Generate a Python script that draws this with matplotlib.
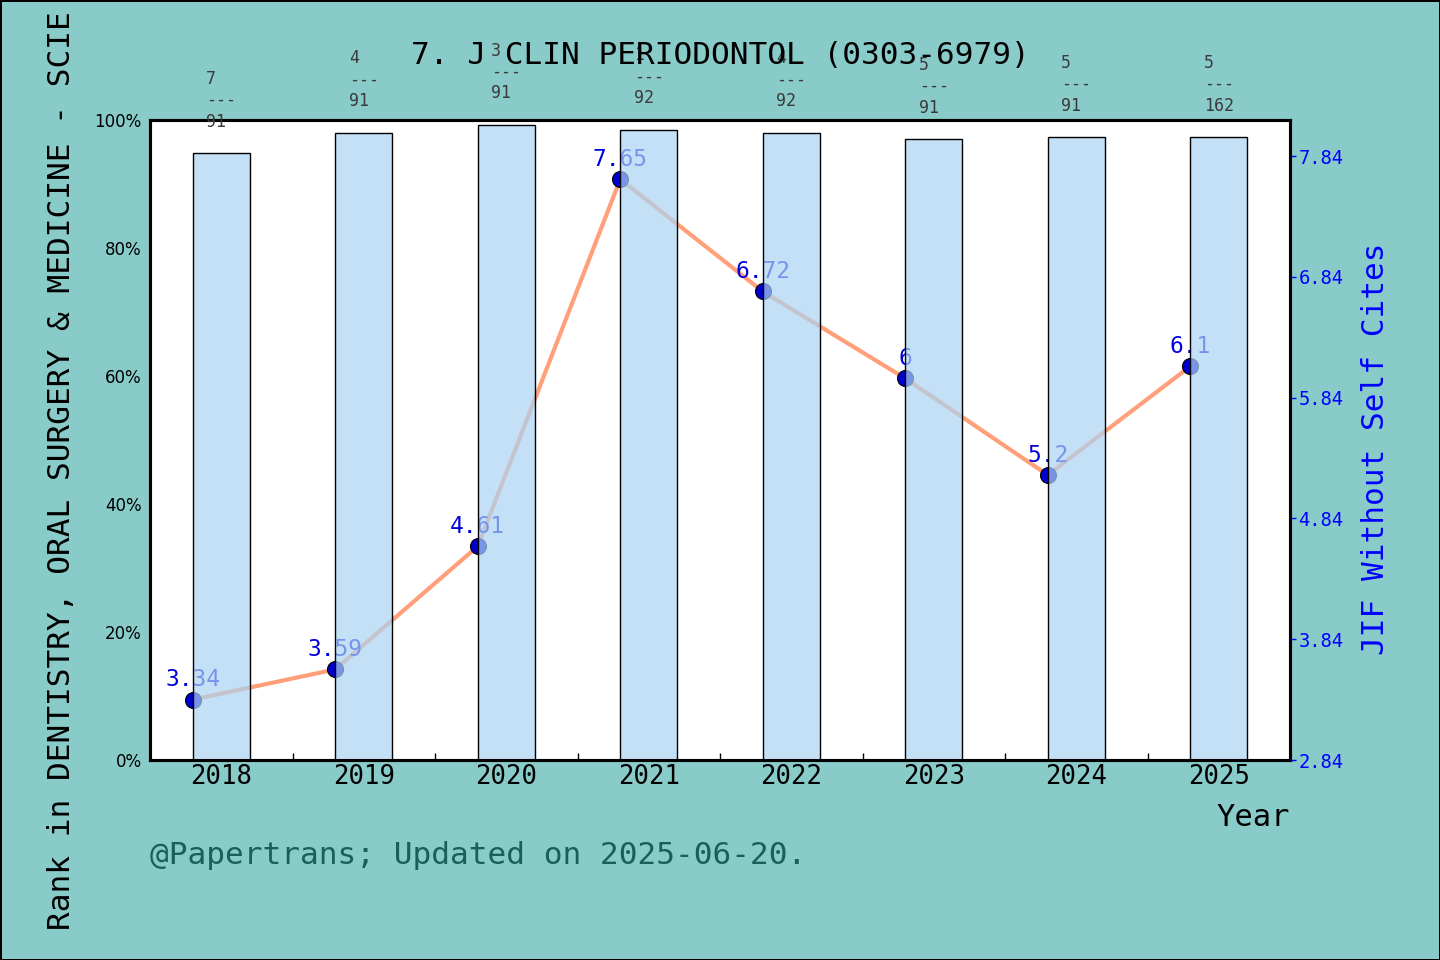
import numpy as np
import matplotlib
matplotlib.use('Agg')
import matplotlib.pyplot as plt

BG = '#88cbc9'
MONO = 'DejaVu Sans Mono'

years = ['2018', '2019', '2020', '2021', '2022', '2023', '2024', '2025']
rank_pct = [0.948, 0.980, 0.992, 0.985, 0.980, 0.970, 0.973, 0.973]
rank_pos = [7, 4, 3, 1, 4, 5, 5, 5]
rank_total = [91, 91, 91, 92, 92, 91, 91, 162]
jif_nsc = [3.34, 3.59, 4.61, 7.65, 6.72, 6.0, 5.2, 6.1]

fig = plt.figure(figsize=(14.4, 9.6), dpi=100)
fig.patch.set_facecolor(BG)
fig.patch.set_edgecolor('black')
fig.patch.set_linewidth(2)

ax = fig.add_axes([150/1440, 200/960, 1140/1440, 640/960])
ax2 = ax.twinx()
ax.set_zorder(2); ax2.set_zorder(1)
ax.patch.set_visible(False)
ax2.patch.set_visible(True)
ax2.patch.set_facecolor('white')

x = np.arange(len(years))

# JIF without self cites (right axis, drawn beneath the bars)
ax2.plot(x, jif_nsc, color='#ffa07a', lw=3, zorder=2)
ax2.plot(x, jif_nsc, 'o', color='#0000cd', ms=11.5, mec='black', mew=0.8, zorder=3)
for xi, v in zip(x, jif_nsc):
    ax2.annotate(f'{v:g}', (xi, v), xytext=(0, 6), textcoords='offset points',
                 ha='center', va='bottom', color='#0000dd', fontsize=16.5, family=MONO)
ax2.set_ylim(2.84, 8.14)
ax2.set_yticks(np.arange(2.84, 7.85, 1.0))
ax2.set_yticklabels([f'{t:.2f}' for t in np.arange(2.84, 7.85, 1.0)])
ax2.tick_params(axis='y', colors='blue', labelsize=13.5, length=4, width=1, pad=2)
for lab in ax2.get_yticklabels():
    lab.set_family(MONO)

# rank bars (left axis)
ax.bar(x, rank_pct, width=0.4, align='edge', color=(171/255, 212/255, 244/255, 0.7),
       edgecolor='black', linewidth=1, zorder=2)
for xi, h, p, n in zip(x, rank_pct, rank_pos, rank_total):
    ax.text(xi + 0.2, h + 0.083, f'{p}\n---\n{n}', ha='center', va='center',
            multialignment='left', fontsize=12, family=MONO, color='#3a3a3a',
            clip_on=False, linespacing=1.25)

ax.set_xlim(-0.3, 7.7)
ax.set_ylim(0, 1)
ax.set_yticks(np.arange(0, 1.01, 0.2))
ax.set_yticklabels([f'{int(round(t*100))}%' for t in np.arange(0, 1.01, 0.2)])
ax.tick_params(axis='y', length=0, labelsize=12, pad=6)
ax.set_xticks(x + 0.2)
ax.set_xticklabels(years, family=MONO, fontsize=18.5)
ax.set_xticks(np.arange(7) + 0.7, minor=True)
ax.tick_params(axis='x', which='major', length=0, pad=3)
ax.tick_params(axis='x', which='minor', direction='in', length=5, width=1)

for a in (ax, ax2):
    for s in a.spines.values():
        s.set_linewidth(2.2)
        s.set_color('black')

fig.text(720/1440, 1 - 56/960, '7. J CLIN PERIODONTOL (0303-6979)', ha='center', va='center',
         fontsize=22.4, family=MONO, color='black')
fig.text(62/1440, 1 - 930/960, 'Rank in DENTISTRY, ORAL SURGERY & MEDICINE - SCIE',
         rotation=90, ha='center', va='bottom', fontsize=22.4, family=MONO, color='black')
fig.text(1375/1440, 1 - 449/960, 'JIF Without Self Cites', rotation=90, ha='center',
         va='center', fontsize=22.4, family=MONO, color='blue')
fig.text(1290/1440, 1 - 817/960, 'Year', ha='right', va='center', fontsize=22,
         family=MONO, color='black')
fig.text(150/1440, 1 - 855/960, '@Papertrans; Updated on 2025-06-20.', ha='left',
         va='center', fontsize=22.4, family=MONO, color='#1b5f58')

fig.savefig('out.png', dpi=100, facecolor=BG, edgecolor='black')
